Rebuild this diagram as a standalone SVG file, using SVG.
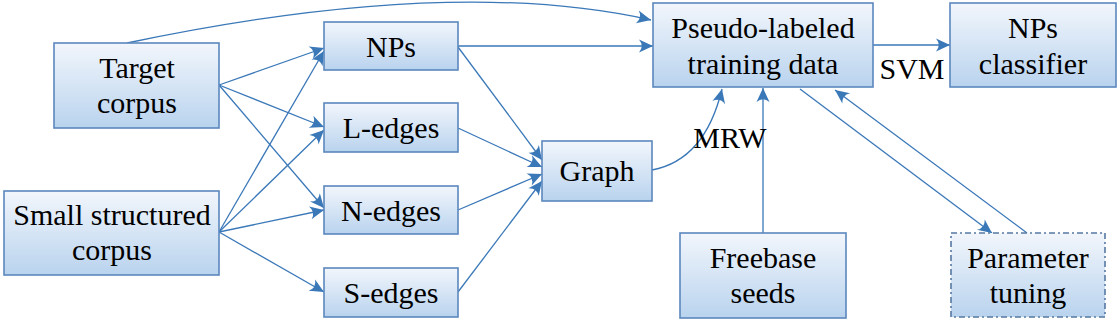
<svg xmlns="http://www.w3.org/2000/svg" width="1120" height="322" viewBox="0 0 1120 322">
<defs>
<linearGradient id="g" x1="0" y1="0" x2="0" y2="1">
<stop offset="0" stop-color="#f2f6fc"/>
<stop offset="1" stop-color="#b9d3ee"/>
</linearGradient>
<marker id="ah" viewBox="-15 -8 16 16" refX="0" refY="0" markerWidth="16" markerHeight="16" markerUnits="userSpaceOnUse" orient="auto">
<path d="M0,0 L-14,-6.5 Q-8.5,0 -14,6.5 Z" fill="#3a78b8"/>
</marker>
</defs>
<style>
.box{fill:url(#g);stroke:#5b88bd;stroke-width:1.6}
.dash{stroke-dasharray:6 3 2 3;stroke:#5579a3}
text{font-family:'Liberation Serif','Times New Roman',serif;font-size:30px;fill:#000;text-anchor:middle}
.c{fill:none;stroke:#3a78b8;stroke-width:1.3;marker-end:url(#ah)}
</style>
<rect width="1120" height="322" fill="#fff"/>
<g id="connectors">
<path class="c" d="M219,85 L324,48"/>
<path class="c" d="M219,85 L324,127"/>
<path class="c" d="M219,85 L324,208"/>
<path class="c" d="M219,232 L324,51"/>
<path class="c" d="M219,232 L324,130"/>
<path class="c" d="M219,232 L324,210"/>
<path class="c" d="M219,232 L324,292"/>
<path class="c" d="M458,47 L542,160"/>
<path class="c" d="M458,128 L542,167"/>
<path class="c" d="M458,210 L542,174"/>
<path class="c" d="M458,292 L542,181"/>
<path class="c" d="M458,46 L653,46"/>
<path class="c" d="M127,43 Q450,-25 651,20"/>
<path class="c" d="M652,170 Q705,160 722,89"/>
<path class="c" d="M763,233 L763,88"/>
<path class="c" d="M873,45 L950,45"/>
<path class="c" d="M800,89 L992,233"/>
<path class="c" d="M1027,233 L835,90"/>
<text x="912" y="79">SVM</text>
<text x="730" y="148">MRW</text>
</g>
<g id="target-corpus">
<rect class="box" x="54" y="43" width="165" height="85"/>
<text x="137" y="78">Target</text>
<text x="137" y="113">corpus</text>
</g>
<g id="small-structured-corpus">
<rect class="box" x="4" y="191" width="215" height="84"/>
<text x="112" y="225">Small structured</text>
<text x="112" y="260">corpus</text>
</g>
<g id="nps">
<rect class="box" x="324" y="22" width="134" height="48"/>
<text x="391" y="57">NPs</text>
</g>
<g id="l-edges">
<rect class="box" x="324" y="103" width="134" height="49"/>
<text x="391" y="138">L-edges</text>
</g>
<g id="n-edges">
<rect class="box" x="324" y="186" width="134" height="48"/>
<text x="391" y="221">N-edges</text>
</g>
<g id="s-edges">
<rect class="box" x="324" y="268" width="134" height="49"/>
<text x="391" y="303">S-edges</text>
</g>
<g id="graph">
<rect class="box" x="542" y="141" width="110" height="60"/>
<text x="597" y="181">Graph</text>
</g>
<g id="pseudo-labeled">
<rect class="box" x="653" y="3" width="220" height="84"/>
<text x="763" y="38">Pseudo-labeled</text>
<text x="763" y="74">training data</text>
</g>
<g id="nps-classifier">
<rect class="box" x="950" y="3" width="166" height="84"/>
<text x="1033" y="38">NPs</text>
<text x="1033" y="74">classifier</text>
</g>
<g id="freebase-seeds">
<rect class="box" x="680" y="233" width="166" height="85"/>
<text x="763" y="268">Freebase</text>
<text x="763" y="303">seeds</text>
</g>
<g id="parameter-tuning">
<rect class="box dash" x="951" y="233" width="154" height="84"/>
<text x="1028" y="268">Parameter</text>
<text x="1028" y="303">tuning</text>
</g>
</svg>
